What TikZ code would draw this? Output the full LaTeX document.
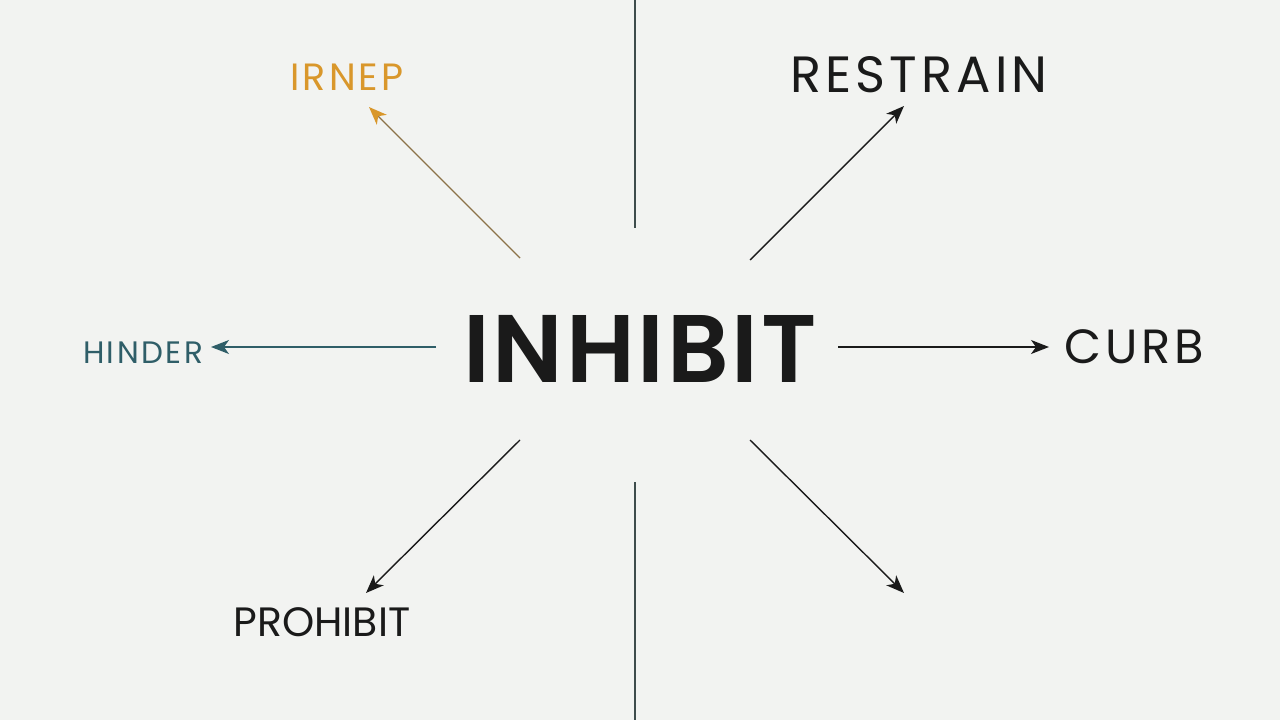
\documentclass[tikz,border=0pt]{standalone}
\usepackage{fontspec}
\setmainfont{Poppins}
\newfontfamily\wide[LetterSpace=8]{Poppins}
\newfontfamily\widebold[LetterSpace=3]{Poppins SemiBold}
\usetikzlibrary{arrows.meta}
\definecolor{bg}{HTML}{F2F3F1}
\definecolor{vline}{HTML}{3E4C4C}
\definecolor{ink}{HTML}{1A1A1A}
\definecolor{orng}{HTML}{D9972B}
\definecolor{orline}{HTML}{8C7248}
\definecolor{teal}{HTML}{2F5E68}
\tikzset{
  arr/.style={line width=1.4pt, draw=ink, -{Stealth[length=18pt,width=14pt,inset=5pt]}},
  lbl/.style={inner sep=0pt, text=ink, font=\wide\fontsize{#1}{#1}\selectfont},
  divider/.style={line width=1.1pt, draw=vline}
}
\begin{document}
\begin{tikzpicture}[x=1pt,y=-1pt]
\fill[bg] (0,0) rectangle (1280,720);
\useasboundingbox (0,0) rectangle (1280,720);
% vertical dividers
\coordinate (vt1) at (635,0);
\coordinate (vt2) at (635,228);
\coordinate (vb1) at (635,482);
\coordinate (vb2) at (635,720);
\draw[divider] (vt1) -- (vt2);
\draw[divider] (vb1) -- (vb2);
% centre
\node[inner sep=0pt, text=ink, font=\widebold\fontsize{96}{96}\selectfont] (inh) at (640,349) {INHIBIT};
% labels
\node[lbl=38, text=orng] (irnep) at (347,77) {IRNEP};
\node[lbl=51] (restrain) at (919,75) {RESTRAIN};
\node[lbl=31, text=teal] (hinder) at (143,353) {HINDER};
\node[lbl=48] (curb) at (1134,347) {CURB};
\node[inner sep=0pt, text=ink, font=\fontsize{41}{41}\selectfont] (prohibit) at (322,622) {PROHIBIT};
% arrow end points
\coordinate (a1s) at (520,258); \coordinate (a1e) at (369,107);
\coordinate (a2s) at (750,260); \coordinate (a2e) at (904,106);
\coordinate (a3s) at (436,347); \coordinate (a3e) at (211,347);
\coordinate (a4s) at (838,347); \coordinate (a4e) at (1049,347);
\coordinate (a5s) at (520,440); \coordinate (a5e) at (366,593);
\coordinate (a6s) at (750,440); \coordinate (a6e) at (904,593);
\draw[arr, draw=orline, -{Stealth[length=18pt,width=14pt,inset=5pt,color=orng]}] (a1s) -- (a1e);
\draw[arr] (a2s) -- (a2e);
\draw[arr, draw=teal] (a3s) -- (a3e);
\draw[arr] (a4s) -- (a4e);
\draw[arr] (a5s) -- (a5e);
\draw[arr] (a6s) -- (a6e);
\end{tikzpicture}
\end{document}
